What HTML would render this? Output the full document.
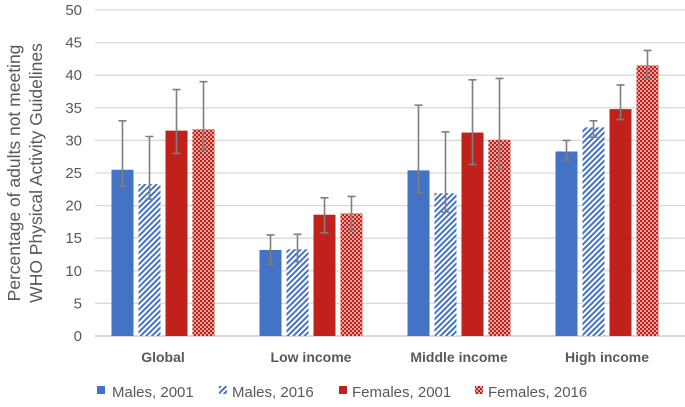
<!DOCTYPE html>
<html><head><meta charset="utf-8"><style>
body{margin:0;background:#fff;font-family:"Liberation Sans",sans-serif}
text{font-family:"Liberation Sans",sans-serif}
</style></head><body>
<svg id="c" width="685" height="402" xmlns="http://www.w3.org/2000/svg">
<defs>
<pattern id="hatch" width="4" height="4" patternUnits="userSpaceOnUse" patternTransform="rotate(45)">
<rect width="4" height="4" fill="#fff"/><rect width="2" height="4" fill="#4472c4"/></pattern>
<pattern id="check" width="4" height="4" patternUnits="userSpaceOnUse">
<rect width="4" height="4" fill="#e8a09a"/><rect width="2" height="2" fill="#c0211a"/><rect x="2" y="2" width="2" height="2" fill="#c0211a"/></pattern>
</defs>
<g id="grid"></g><g id="bars"></g><g id="errs"></g><g id="labels"></g>
<text transform="translate(22,173) rotate(-90)" text-anchor="middle" font-size="17.5" fill="#595959"><tspan x="0" dy="-2">Percentage of adults not meeting</tspan><tspan x="0" dy="22">WHO Physical Activity Guidelines</tspan></text>
<g font-size="15" fill="#595959">
<rect x="97" y="386" width="8" height="8" fill="#4472c4"/><text x="112" y="397">Males, 2001</text>
<rect x="219" y="386" width="8" height="8" fill="url(#hatch)"/><text x="232" y="397">Males, 2016</text>
<rect x="339" y="386" width="8" height="8" fill="#c0211a"/><text x="352" y="397">Females, 2001</text>
<rect x="475" y="386" width="8" height="8" fill="url(#check)"/><text x="488" y="397">Females, 2016</text>
</g>
</svg>
<script>
const categories=["Global","Low income","Middle income","High income"];
const seriesNames=["Males, 2001","Males, 2016","Females, 2001","Females, 2016"];
const values=[[25.5,23.3,31.5,31.7],[13.2,13.3,18.6,18.8],[25.4,21.9,31.2,30.1],[28.3,32,34.8,41.5]];
const lows=[[23,21,28,28.5],[11,11.4,15.8,16.2],[22,19,26.3,25.6],[27,30.5,33.2,39.5]];
const highs=[[33,30.6,37.8,39],[15.5,15.6,21.2,21.4],[35.4,31.3,39.3,39.5],[30,33,38.5,43.8]];
const yTicks=[0,5,10,15,20,25,30,35,40,45,50];
const fills=["#4472c4","url(#hatch)","#c0211a","url(#check)"];
const NS="http://www.w3.org/2000/svg";
const x0=89,catW=148,y0=336,yTop=10,yMax=50;
const y=v=>y0-(v/yMax)*(y0-yTop);
const barW=22,gap=5;
function mk(t,a,p){const e=document.createElementNS(NS,t);for(const k in a)e.setAttribute(k,a[k]);document.getElementById(p).appendChild(e);return e;}
yTicks.forEach(t=>{
 const l=mk('line',{x1:95,x2:685,y1:y(t),y2:y(t),stroke:t===0?'#bfbfbf':'#d9d9d9','stroke-width':1.3},'grid');
 
 
 const tx=mk('text',{x:82,y:y(t)+5,'text-anchor':'end','font-size':15,fill:'#595959'},'labels');
 tx.textContent=t;
 
 
});
categories.forEach((c,i)=>{
 const cx=x0+catW*i+catW/2;
 const start=cx-(4*barW+3*gap)/2;
 values[i].forEach((v,s)=>{
  const bx=start+s*(barW+gap);
  const r=mk('rect',{x:bx,y:y(v),width:barW,height:y0-y(v),fill:fills[s]},'bars');
  
  
  const ex=bx+barW/2;
  const e=mk('path',{d:`M${ex} ${y(lows[i][s])}V${y(highs[i][s])}M${ex-4} ${y(lows[i][s])}h8M${ex-4} ${y(highs[i][s])}h8`,stroke:'#7f7f7f','stroke-width':1.6,fill:'none'},'errs');
  
  
 });
 const t=mk('text',{x:cx,y:362,'text-anchor':'middle','font-size':14,'font-weight':'bold',fill:'#595959'},'labels');
 t.textContent=c;
 
 
});
</script>
</body></html>
